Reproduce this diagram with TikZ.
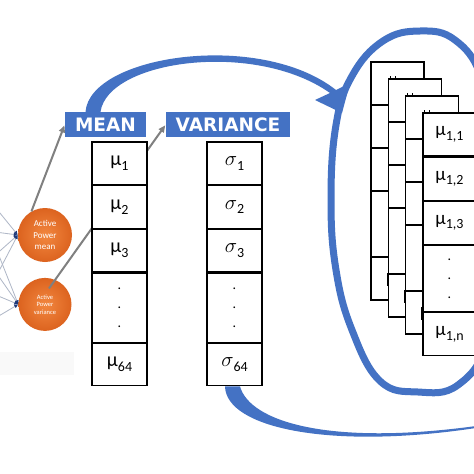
\documentclass[tikz,border=0pt]{standalone}
\usepackage{fontspec}
\setmainfont{Carlito}
\newfontfamily\headfont{DejaVu Sans}
\usetikzlibrary{positioning,arrows.meta}
\definecolor{boxblue}{HTML}{4472C4}
\definecolor{ballin}{HTML}{F2873F}
\definecolor{ballout}{HTML}{DC631F}
\definecolor{netgray}{HTML}{AEB6C6}
\definecolor{netnavy}{HTML}{1F3A7A}
\newcommand{\lowidx}[1]{\raisebox{-0.5ex}{\fontsize{14}{14}\selectfont #1}}

\begin{document}
\begin{tikzpicture}[x=1pt,y=-1pt]

  % Definitions
  \tikzstyle{cell} = [rectangle, draw=black, line width=1.2pt, fill=white, minimum width=55pt, minimum height=42.5pt, inner sep=0pt, font=\fontsize{20}{20}\selectfont]
  \tikzstyle{dotcell} = [cell, minimum height=69pt, align=center, font=\fontsize{14}{19}\selectfont]
  \tikzstyle{sheetcell} = [cell, minimum width=53pt, minimum height=43pt, font=\fontsize{19}{19}\selectfont]
  \tikzstyle{labelbox} = [rectangle, fill=boxblue, text=white, minimum height=25pt, inner sep=0pt, font=\headfont\bfseries\fontsize{18.5}{18.5}\selectfont]
  \tikzstyle{ball} = [circle, inner color=ballin, outer color=ballout, text=white, align=center, inner sep=0pt]
  \tikzstyle{netline} = [netgray, line width=0.8pt, -{Latex[length=4pt,width=4pt,color=netnavy]}]
  \tikzstyle{grayarrow} = [gray, line width=2pt, -{Triangle[length=7pt,width=6pt]}, shorten >=1pt]
  \tikzstyle{sheet} = [draw=black, line width=1.2pt]

  \useasboundingbox (0,0) rectangle (474,474);
  \clip (0,0) rectangle (474,474);
  \fill[white] (0,0) rectangle (474,474);

  % left network
  \fill[gray!5] (0,352) rectangle (74,375);
  \node (ActMean) [ball, minimum size=54pt, font=\fontsize{9}{11.5}\selectfont] at (45,235) {Active\\Power\\mean};
  \node (ActVar) [ball, minimum size=53pt, font=\fontsize{6.5}{7.5}\selectfont, below=15.5pt of ActMean] {Active\\Power\\variance};
  \foreach \i/\y in {1/170, 2/228, 3/282, 4/336} {
    \coordinate (in\i) at (-35,\y);
    \draw[netline] (in\i) -- (ActMean.west);
    \draw[netline] (in\i) -- (ActVar.west);
  }

  % labels
  \node (mean) [labelbox, minimum width=81pt] at (105.5,124.5) {MEAN};
  \node (var) [labelbox, minimum width=124pt] at (228,124.5) {VARIANCE};

  \draw[grayarrow] (ActMean.120) -- (mean.west);
  \draw[grayarrow] ([shift={(4,-16)}]ActVar.center) -- (var.west);

  % mean column
  \node (m1) [cell] at (119.5,163.25) {μ\lowidx{1}};
  \node (m2) [cell, below=0pt of m1] {μ\lowidx{2}};
  \node (m3) [cell, below=0pt of m2] {μ\lowidx{3}};
  \node (m4) [dotcell, below=0pt of m3] {.\\.\\.};
  \node (m5) [cell, below=0pt of m4] {μ\lowidx{64}};

  % variance column
  \node (v1) [cell] at (234.5,163.25) {$\sigma$\lowidx{1}};
  \node (v2) [cell, below=0pt of v1] {$\sigma$\lowidx{2}};
  \node (v3) [cell, below=0pt of v2] {$\sigma$\lowidx{3}};
  \node (v4) [dotcell, below=0pt of v3] {.\\.\\.};
  \node (v5) [cell, below=0pt of v4] {$\sigma$\lowidx{64}};

  % stacked sheets
  \foreach \k in {0,1,2} {
    \pgfmathsetmacro\sx{371+17.33*\k}
    \pgfmathsetmacro\sy{62+17*\k}
    \draw[sheet, fill=white] (\sx,\sy) rectangle ++(53,238);
    \foreach \r in {43,86,129,195} \draw[sheet] (\sx,\sy+\r) -- ++(53,0);
  }
  \node (f1) [sheetcell] at (449.5,134.5) {μ\lowidx{1,1}};
  \node (f2) [sheetcell, below=0pt of f1] {μ\lowidx{1,2}};
  \node (f3) [sheetcell, below=0pt of f2] {μ\lowidx{1,3}};
  \node (f4) [dotcell, minimum width=53pt, minimum height=66pt, below=0pt of f3] {.\\.\\.};
  \node (f5) [sheetcell, below=0pt of f4] {μ\lowidx{1,n}};
  \foreach \k in {1,2,3} {
    \pgfmathsetmacro\sx{371+17.33*\k}
    \pgfmathsetmacro\sy{62+17*\k}
    \draw[line width=1pt] (\sx+2,\sy-3) -- ++(0,3) (\sx+7,\sy-3) -- ++(0,3);
    \draw[line width=2.5pt] (\sx-0.5,\sy+194) -- ++(0,13);
  }

  % blue loop and curved arrows
  \draw[boxblue, line width=7pt] plot[smooth cycle, tension=0.7] coordinates {(420,31) (383,41) (352,76) (336,125) (331,200) (336,270) (352,330) (380,381) (418,392) (458,385) (488,340) (500,250) (498,150) (482,78) (455,40)};
  \fill[boxblue] ([xshift=-20pt]mean.north) .. controls (90,55) and (260,30) .. (336,90) -- (350,83) -- (342,113) -- (315,100) -- (330,93) .. controls (255,40) and (108,60) .. ([xshift=-5pt]mean.north) -- cycle;
  \fill[boxblue] ([xshift=-9.5pt]v5.south) .. controls (226,428) and (330,450) .. (476,428) -- (476,426) .. controls (330,446) and (250,422) .. ([xshift=5.5pt]v5.south) -- cycle;

\end{tikzpicture}
\end{document}
